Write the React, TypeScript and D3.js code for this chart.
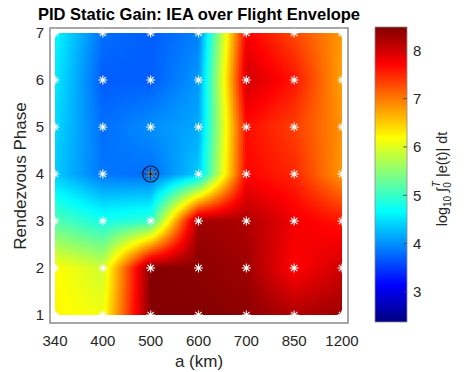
import React, { useMemo } from 'react';
import * as d3 from 'd3';

// grid of the flight envelope
const altitudes = ['340', '400', '500', '600', '700', '850', '1200'];
const phases = [1, 2, 3, 4, 5, 6, 7];

// log10 IEA, one array per rendezvous phase, values per altitude
const phase1 = [6.25, 6.1, 8.45, 8.45, 8.4, 8.2, 8.3];
const phase2 = [6.2, 5.9, 8.45, 8.4, 8.3, 7.7, 8.0];
const phase3 = [5.15, 4.8, 4.95, 8.3, 8.2, 7.8, 7.6];
const phase4 = [4.35, 3.85, 3.8, 4.35, 7.7, 7.5, 6.8];
const phase5 = [4.45, 3.8, 4.0, 4.15, 7.65, 7.35, 6.85];
const phase6 = [4.55, 3.7, 3.7, 4.05, 8.0, 7.6, 6.75];
const phase7 = [4.65, 3.8, 3.7, 3.9, 7.75, 7.3, 6.8];
const ieaRows = [phase1, phase2, phase3, phase4, phase5, phase6, phase7];

const colorTicks = [3, 4, 5, 6, 7, 8];
const colorLimits = [2.38, 8.48];
const selectedPoint = { alt: '500', phase: 4 };

const W = 474;
const H = 372;
const font = '"Liberation Sans", Arial, sans-serif';
const textColor = '#262626';

const jet = (t: number) => {
  const c = (v: number) => Math.max(0, Math.min(1, v));
  const r = c(1.5 - Math.abs(4 * t - 3));
  const g = c(1.5 - Math.abs(4 * t - 2));
  const b = c(1.5 - Math.abs(4 * t - 1));
  return d3.rgb(r * 255, g * 255, b * 255).formatHex();
};

const asterisk = (cx: number, cy: number, r: number) => {
  const d = r * Math.SQRT1_2;
  return `M${cx - r},${cy}L${cx + r},${cy}M${cx},${cy - r}L${cx},${cy + r}` +
    `M${cx - d},${cy - d}L${cx + d},${cy + d}M${cx - d},${cy + d}L${cx + d},${cy - d}`;
};

const App: React.FC = () => {
  const x = d3.scalePoint().domain(altitudes).range([55, 342]);
  const xi = d3.scaleLinear().domain([0, altitudes.length - 1]).range([55, 342]);
  const y = d3.scaleLinear().domain([1, 7]).range([315, 33]);
  const norm = d3.scaleLinear().domain(colorLimits).range([0, 1]).clamp(true);
  const cb = d3.scaleLinear().domain(colorLimits).range([322, 27]);

  const box = { x0: 50, x1: 348, y0: 28, y1: 323 };

  const cells = useMemo(() => {
    const out: { x: number; y: number; c: string }[] = [];
    const step = 2;
    const [xa, xb] = xi.range();
    const [yb, ya] = y.range();
    for (let py = ya; py < yb; py += step) {
      for (let px = xa; px < xb; px += step) {
        const fx = xi.invert(px + step / 2);
        const fy = y.invert(py + step / 2) - 1;
        const i = Math.max(0, Math.min(5, Math.floor(fx)));
        const j = Math.max(0, Math.min(5, Math.floor(fy)));
        const tx = Math.max(0, Math.min(1, fx - i));
        const ty = Math.max(0, Math.min(1, fy - j));
        const v =
          ieaRows[j][i] * (1 - tx) * (1 - ty) +
          ieaRows[j][i + 1] * tx * (1 - ty) +
          ieaRows[j + 1][i] * (1 - tx) * ty +
          ieaRows[j + 1][i + 1] * tx * ty;
        out.push({ x: px, y: py, c: jet(norm(v)) });
      }
    }
    return out;
  }, []);

  const gradStops = d3.range(0, 1.0001, 0.0625);

  return (
    <svg width={W} height={H} style={{ position: 'absolute', left: 0, top: 0, background: '#fff' }}>
      <defs>
        <clipPath id="heatClip">
          <rect x={55} y={33} width={287} height={282} rx={5} />
        </clipPath>
        <linearGradient id="jetGrad" x1="0" y1="1" x2="0" y2="0">
          {gradStops.map(t => (
            <stop key={t} offset={t} stopColor={jet(t)} />
          ))}
        </linearGradient>
      </defs>

      <text x={199} y={20} textAnchor="middle" fontFamily={font} fontWeight="bold" fontSize={16.5} fill="#000">
        PID Static Gain: IEA over Flight Envelope
      </text>

      <g clipPath="url(#heatClip)" shapeRendering="crispEdges">
        {cells.map((d, k) => (
          <rect key={k} x={d.x} y={d.y} width={2.2} height={2.2} fill={d.c} />
        ))}
      </g>

      <rect x={box.x0} y={box.y0} width={box.x1 - box.x0} height={box.y1 - box.y0}
        fill="none" stroke="#8a8a8a" strokeWidth={1.5} />

      {/* grid points */}
      {phases.map(p =>
        altitudes.map(a => (
          <path key={`${a}-${p}`} d={asterisk(x(a)!, y(p), 4.5)} stroke="#fff" strokeWidth={1.1} fill="none" />
        ))
      )}
      <circle cx={x(selectedPoint.alt)!} cy={y(selectedPoint.phase)} r={8} fill="none" stroke="#111" strokeWidth={1.2} />
      <path d={asterisk(x(selectedPoint.alt)!, y(selectedPoint.phase), 6)} stroke="#111" strokeWidth={1} fill="none" />

      {/* x axis */}
      {altitudes.map(a => (
        <text key={a} x={x(a)!} y={346} textAnchor="middle" fontFamily={font} fontSize={15} fill={textColor}>{a}</text>
      ))}
      <text x={199} y={367} textAnchor="middle" fontFamily={font} fontSize={17} fill={textColor}>a (km)</text>

      {/* y axis */}
      {phases.map(p => (
        <text key={p} x={44} y={y(p)} dy="0.36em" textAnchor="end" fontFamily={font} fontSize={15} fill={textColor}>{p}</text>
      ))}
      <text transform="translate(26,176) rotate(-90)" textAnchor="middle" fontFamily={font} fontSize={17} fill={textColor}>
        Rendezvous Phase
      </text>

      {/* colorbar */}
      <rect x={375} y={27} width={32} height={295} fill="url(#jetGrad)" stroke="#8a8a8a" strokeWidth={0.8} />
      {colorTicks.map(t => (
        <g key={t}>
          <line x1={403} x2={407} y1={cb(t)} y2={cb(t)} stroke="#444" strokeWidth={0.8} />
          <text x={413} y={cb(t)} dy="0.36em" fontFamily={font} fontSize={15} fill={textColor}>{t}</text>
        </g>
      ))}
      <text transform="translate(447,179) rotate(-90)" textAnchor="middle" fontFamily={font} fontSize={14.5} fill={textColor}>
        log<tspan fontSize={10} dy={4}>10</tspan>
        <tspan dy={-4}> ∫</tspan>
        <tspan fontSize={10} dy={4}>0</tspan>
        <tspan fontSize={10} dx={-5} dy={-11} fontStyle="italic">T</tspan>
        <tspan dy={7}> |e(t)| dt</tspan>
      </text>
    </svg>
  );
};

export default App;
